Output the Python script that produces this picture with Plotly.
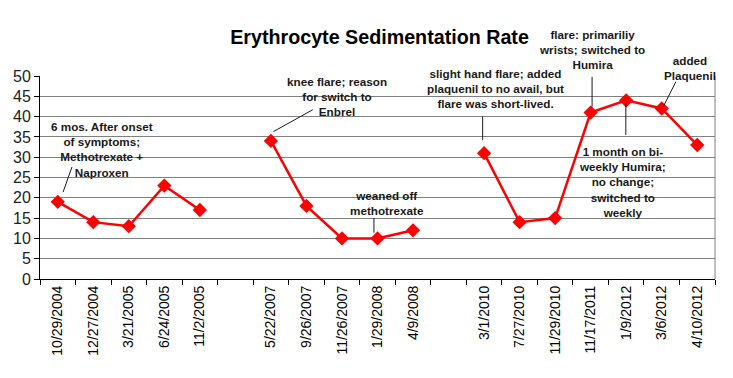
import plotly.graph_objects as go

categories = ["10/29/2004", "12/27/2004", "3/21/2005", "6/24/2005", "11/2/2005", " ",
              "5/22/2007", "9/26/2007", "11/26/2007", "1/29/2008", "4/9/2008", "  ",
              "3/1/2010", "7/27/2010", "11/29/2010", "11/17/2011", "1/9/2012", "3/6/2012", "4/10/2012"]
esr = [19, 14, 13, 23, 17, None,
       34, 18, 10, 10, 12, None,
       31, 14, 15, 41, 44, 42, 33]
y_ticks = [0, 5, 10, 15, 20, 25, 30, 35, 40, 45, 50]

notes = [
    # text, text x (category index), text y (data units), leader from (x,y) to (x,y)
    ("6 mos. After onset<br>of symptoms;<br>Methotrexate +<br>Naproxen", 1.245, 31.9, (0.15, 21.4), (0.40, 27.6)),
    ("knee flare; reason<br>for switch to<br>Enbrel", 7.85, 45.05, (6.07, 36.3), (7.18, 41.7)),
    ("weaned off<br>methotrexate", 9.26, 18.6, (8.9, 11.4), (8.9, 15.0)),
    ("slight hand flare; added<br>plaquenil to no avail, but<br>flare was short-lived.", 12.33, 46.8, (11.96, 34.2), (11.96, 40.0)),
    ("flare: primariliy<br>wrists; switched to<br>Humira", 15.04, 56.6, (15.04, 42.4), (15.04, 49.8)),
    ("added<br>Plaquenil", 17.81, 51.9, (17.04, 42.4), (17.40, 48.6)),
    ("1 month on bi-<br>weekly Humira;<br>no change;<br>switched to<br>weekly", 15.89, 23.8, (15.99, 43.3), (15.99, 35.5)),
]

n_cat = len(categories)
y_max = 50.0


def px(i):
    return (i + 0.5) / n_cat


def py(v):
    return v / y_max


fig = go.Figure()
fig.add_trace(go.Scatter(
    x=categories, y=esr, mode="lines+markers", connectgaps=False,
    line=dict(color="#FF0000", width=2.5),
    marker=dict(symbol="diamond", size=11, color="#FF0000"),
    showlegend=False, cliponaxis=False,
))

for text, tx, ty, p0, p1 in notes:
    fig.add_annotation(x=px(tx), y=py(ty), xref="paper", yref="paper", text="<b>" + text + "</b>",
                       showarrow=False,
                       font=dict(family="Arial, Liberation Sans", size=11.7, color="#1a1a1a"),
                       align="center", xanchor="center", yanchor="middle")
    fig.add_shape(type="line", x0=px(p0[0]), y0=py(p0[1]), x1=px(p1[0]), y1=py(p1[1]),
                  xref="paper", yref="paper", line=dict(color="#1a1a1a", width=1))

# right border of plot area
fig.add_shape(type="line", xref="paper", yref="paper", x0=1, x1=1, y0=0, y1=1,
              line=dict(color="#808080", width=1))

fig.update_layout(
    width=725, height=370,
    margin=dict(l=32, r=18, t=68, b=99),
    paper_bgcolor="white", plot_bgcolor="white",
    title=dict(text="<b>Erythrocyte Sedimentation Rate</b>", x=0.503, xref="paper", xanchor="center",
               y=0.92, yref="container", yanchor="middle",
               font=dict(family="Arial, Liberation Sans", size=19.7, color="black")),
    font=dict(family="Arial, Liberation Sans", color="black"),
)
fig.update_xaxes(type="category", categoryorder="array", categoryarray=categories,
                 range=[-0.5, n_cat - 0.5], tickson="boundaries", ticks="outside", ticklen=5,
                 tickcolor="black", showline=True, linecolor="black", linewidth=1, automargin=False,
                 tickangle=-90, tickfont=dict(size=14, color="black"), showgrid=False)
fig.update_yaxes(range=[0, y_max], tickvals=y_ticks, ticks="outside", ticklen=5, tickcolor="black",
                 showline=True, linecolor="black", linewidth=1, showgrid=True, gridcolor="#808080",
                 gridwidth=1, tickfont=dict(size=16, color="#222222"), zeroline=False, automargin=False)

fig.write_html("out.html")
